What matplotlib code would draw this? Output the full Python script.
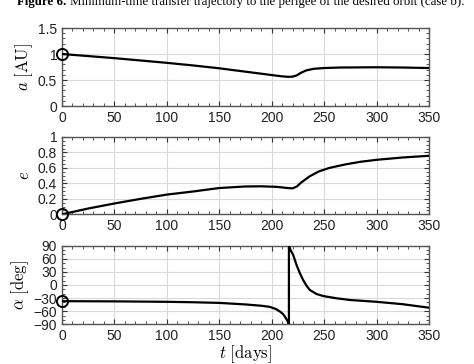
import matplotlib
matplotlib.use("Agg")
import matplotlib.pyplot as plt
from matplotlib.ticker import MultipleLocator
import numpy as np

plt.rcParams['font.family'] = ['Liberation Sans', 'DejaVu Sans']
plt.rcParams['mathtext.fontset'] = 'cm'

# ---- data ----
t_a = [0, 25, 50, 75, 100, 125, 150, 175, 200, 210, 216, 220, 224, 228, 233, 240, 250, 265, 300, 325, 350]
a_vals = [1.0, 0.96, 0.92, 0.875, 0.83, 0.78, 0.725, 0.66, 0.595, 0.57, 0.56, 0.565, 0.59, 0.64, 0.685, 0.715, 0.73, 0.74, 0.745, 0.74, 0.73]

t_e = [0, 10, 25, 50, 75, 100, 125, 150, 175, 190, 205, 215, 220, 224, 228, 236, 245, 255, 270, 285, 300, 325, 350]
e_vals = [0.0, 0.03, 0.075, 0.14, 0.2, 0.255, 0.295, 0.34, 0.36, 0.362, 0.355, 0.34, 0.336, 0.36, 0.41, 0.49, 0.555, 0.6, 0.645, 0.68, 0.705, 0.735, 0.757]

t_al = [0, 50, 100, 125, 150, 175, 190, 198, 204, 208, 211, 213, 215, 216.4, 216.4, 218, 220.5, 223.7, 226.9, 230, 233.2, 236.4, 242.8, 249, 262, 275, 300, 325, 350]
al_vals = [-37, -37.5, -38.5, -39.5, -41, -44.5, -47.5, -50, -55, -61, -67, -74, -82, -90, 90, 80, 68.6, 45.7, 26.7, 11.4, -1.7, -11.5, -20.7, -25.2, -30.5, -34.4, -38.5, -44, -52]

x_ticks = [0, 50, 100, 150, 200, 250, 300, 350]
caption_bold = "Figure 6."
caption_rest = "Minimum-time transfer trajectory to the perigee of the desired orbit (case b)."

W, H = 474, 364
fig = plt.figure(figsize=(W / 100, H / 100), dpi=100)

left = 62 / W
width = (429 - 62) / W

def make_ax(top_px, bot_px):
    return fig.add_axes([left, 1 - bot_px / H, width, (bot_px - top_px) / H])

ax1 = make_ax(28, 106)
ax2 = make_ax(137, 214.3)
ax3 = make_ax(245.7, 324.3)

series = [(ax1, t_a, a_vals), (ax2, t_e, e_vals), (ax3, t_al, al_vals)]
for ax, t, v in series:
    ax.plot(t, v, color='black', lw=1.6, zorder=3)
    ax.plot([t[0]], [v[0]], 'o', mfc='none', mec='black', ms=8, mew=1.4, zorder=4, clip_on=False)
    ax.set_xlim(0, 350)
    ax.set_xticks(x_ticks)
    ax.xaxis.set_minor_locator(MultipleLocator(10))
    ax.grid(True, which='major', color='#d9d9d9', lw=0.8)
    ax.tick_params(which='both', direction='in', top=True, right=True, labelsize=10, colors='#333333')
    ax.tick_params(which='major', length=3.5)
    ax.tick_params(which='minor', length=2)
    for s in ax.spines.values():
        s.set_color('#555555')
        s.set_linewidth(1.0)

ax1.set_ylim(0, 1.5)
ax1.set_yticks([0, 0.5, 1, 1.5])
ax1.set_yticklabels(['0', '0.5', '1', '1.5'])
ax1.yaxis.set_minor_locator(MultipleLocator(0.1))
ax1.set_ylabel(r'$a\ \mathrm{[AU]}$', fontsize=12, labelpad=2)

ax2.set_ylim(0, 1)
ax2.set_yticks([0, 0.2, 0.4, 0.6, 0.8, 1])
ax2.set_yticklabels(['0', '0.2', '0.4', '0.6', '0.8', '1'])
ax2.yaxis.set_minor_locator(MultipleLocator(0.05))
ax2.set_ylabel(r'$e$', fontsize=12, labelpad=4)

ax3.set_ylim(-90, 90)
ax3.set_yticks([-90, -60, -30, 0, 30, 60, 90])
ax3.set_yticklabels(['\u221290', '\u221260', '\u221230', '0', '30', '60', '90'])
ax3.yaxis.set_minor_locator(MultipleLocator(10))
ax3.set_ylabel(r'$\alpha\ \mathrm{[deg]}$', fontsize=12, labelpad=2)
ax3.set_xlabel(r'$t\ \mathrm{[days]}$', fontsize=12, labelpad=0)

for ax in (ax1, ax2, ax3):
    for lab in ax.get_yticklabels() + ax.get_xticklabels():
        lab.set_color('#222222')

cap_y = 1 - 4.5 / H
tb = fig.text(17 / W, cap_y, caption_bold, fontsize=9.3, family='Liberation Serif',
              weight='bold', va='baseline', ha='left')
fig.canvas.draw()
bb = tb.get_window_extent()
fig.text((bb.x1 + 3.5) / W, cap_y, caption_rest, fontsize=9.3, family='Liberation Serif',
         va='baseline', ha='left')

fig.savefig('out.png', dpi=100)
